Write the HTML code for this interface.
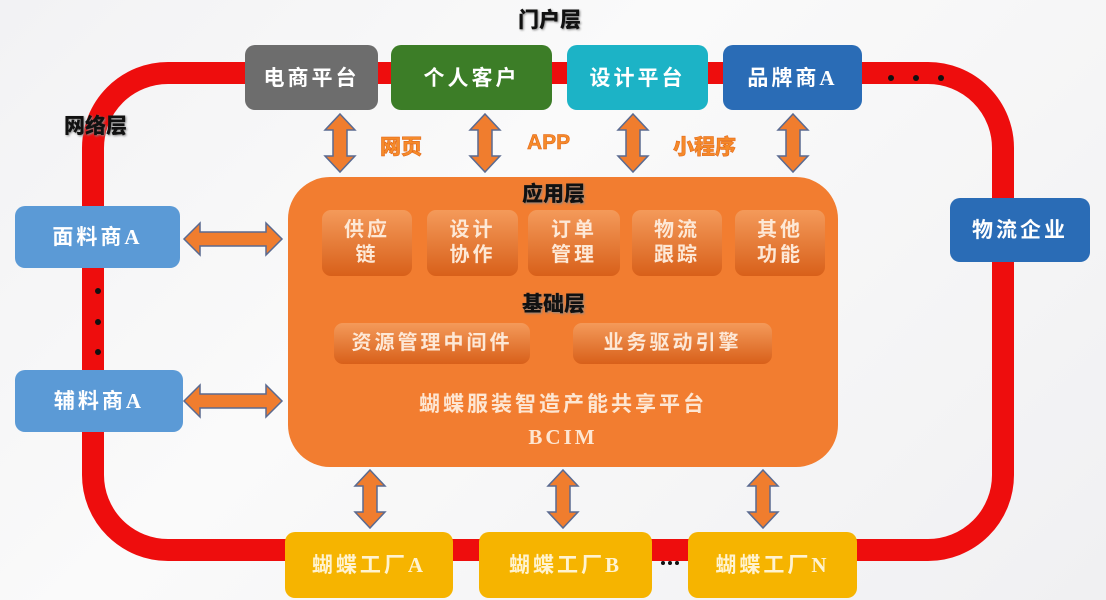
<!DOCTYPE html>
<html><head><meta charset="utf-8"><style>
body{margin:0;width:1106px;height:600px;overflow:hidden;background:linear-gradient(135deg,#f2f2f4,#fafafa 40%,#f0f0f2);font-family:"Liberation Sans","Noto Sans CJK SC",sans-serif;}
.b{position:absolute;display:flex;align-items:center;justify-content:center;color:#fff;font-size:21px;font-weight:bold;border-radius:10px;letter-spacing:3px;text-align:center;line-height:26px;font-family:"Liberation Serif","Noto Sans CJK SC",serif}
.t{position:absolute;font-weight:900;font-size:21px;color:#111;text-shadow:1px 1px 2px #888}
.o{position:absolute;font-weight:900;font-size:21px;color:#f58a2a;-webkit-text-stroke:0.5px #e06010}
.s{position:absolute;display:flex;align-items:center;justify-content:center;color:#fde8d6;font-size:20px;font-weight:bold;border-radius:9px;text-align:center;line-height:25px;background:linear-gradient(#f49a5a,#d8601a);letter-spacing:3px}
.y{background:#f6b400;color:#fff3d0}
</style></head><body>
<svg width="1106" height="600" style="position:absolute;left:0;top:0">
<defs>
<g id="va"><polygon points="0,-29 15,-13 7,-13 7,13 15,13 0,29 -15,13 -7,13 -7,-13 -15,-13" fill="#f07d2e" stroke="#5a6a90" stroke-width="1.5"/></g>
<g id="ha"><polygon points="-49,0 -33,-16 -33,-7 33,-7 33,-16 49,0 33,16 33,7 -33,7 -33,16" fill="#f07d2e" stroke="#5a6a90" stroke-width="1.5"/></g>
</defs>
<rect x="93" y="73" width="910" height="477" rx="75" fill="none" stroke="#ee0d0d" stroke-width="22"/>
<circle cx="98" cy="291" r="3" fill="#111"/><circle cx="98" cy="322" r="3" fill="#111"/><circle cx="98" cy="352" r="3" fill="#111"/>
<circle cx="891" cy="78" r="3" fill="#111"/><circle cx="916" cy="78" r="3" fill="#111"/><circle cx="941" cy="78" r="3" fill="#111"/>
<circle cx="663" cy="563" r="2" fill="#111"/><circle cx="670" cy="563" r="2" fill="#111"/><circle cx="677" cy="563" r="2" fill="#111"/>
<use href="#va" x="340" y="143"/><use href="#va" x="485" y="143"/><use href="#va" x="633" y="143"/><use href="#va" x="793" y="143"/>
<use href="#va" x="370" y="499"/><use href="#va" x="563" y="499"/><use href="#va" x="763" y="499"/>
<use href="#ha" x="233" y="239"/><use href="#ha" x="233" y="401"/>
</svg>
<div class="t" style="left:518px;top:4px">门户层</div>
<div class="t" style="left:64px;top:110px">网络层</div>
<div class="b" style="left:245px;top:45px;width:133px;height:65px;background:#6d6d6d">电商平台</div>
<div class="b" style="left:391px;top:45px;width:161px;height:65px;background:#3c7d27">个人客户</div>
<div class="b" style="left:567px;top:45px;width:141px;height:65px;background:#1cb3c6">设计平台</div>
<div class="b" style="left:723px;top:45px;width:139px;height:65px;background:#2a6cb6">品牌商A</div>
<div class="b" style="left:15px;top:206px;width:165px;height:62px;background:#5b9ad6">面料商A</div>
<div class="b" style="left:15px;top:370px;width:168px;height:62px;background:#5b9ad6">辅料商A</div>
<div class="b" style="left:950px;top:198px;width:140px;height:64px;background:#2a6cb6">物流企业</div>
<div class="o" style="left:380px;top:131px">网页</div>
<div class="o" style="left:527px;top:131px">APP</div>
<div class="o" style="left:673px;top:131px">小程序</div>
<div style="position:absolute;left:288px;top:177px;width:550px;height:290px;border-radius:42px;background:#f27d30"></div>
<div class="t" style="left:522px;top:178px">应用层</div>
<div class="s" style="left:322px;top:210px;width:90px;height:66px">供应<br>链</div>
<div class="s" style="left:427px;top:210px;width:91px;height:66px">设计<br>协作</div>
<div class="s" style="left:528px;top:210px;width:92px;height:66px">订单<br>管理</div>
<div class="s" style="left:632px;top:210px;width:90px;height:66px">物流<br>跟踪</div>
<div class="s" style="left:735px;top:210px;width:90px;height:66px">其他<br>功能</div>
<div class="t" style="left:522px;top:288px">基础层</div>
<div class="s" style="left:334px;top:323px;width:196px;height:41px">资源管理中间件</div>
<div class="s" style="left:573px;top:323px;width:199px;height:41px">业务驱动引擎</div>
<div style="position:absolute;left:288px;top:388px;width:550px;text-align:center;color:#fde6d2;font-weight:bold;font-size:21px;line-height:33px;letter-spacing:3px;font-family:'Liberation Serif','Noto Sans CJK SC',serif">蝴蝶服装智造产能共享平台<br>BCIM</div>
<div class="b y" style="left:285px;top:532px;width:168px;height:66px">蝴蝶工厂A</div>
<div class="b y" style="left:479px;top:532px;width:173px;height:66px">蝴蝶工厂B</div>
<div class="b y" style="left:688px;top:532px;width:169px;height:66px">蝴蝶工厂N</div>
</body></html>
